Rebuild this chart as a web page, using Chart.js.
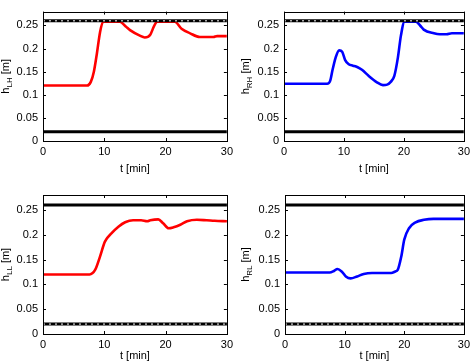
<!DOCTYPE html>
<html>
<head>
<meta charset="utf-8">
<script src="https://cdn.jsdelivr.net/npm/chart.js@4.4.1/dist/chart.umd.min.js"></script>
<style>
  html, body { margin: 0; padding: 0; background: #fff; }
  body { width: 474px; height: 361px; position: relative; overflow: hidden; }
  .cell { position: absolute; }
</style>
</head>
<body>
<div class="cell" style="left:0;top:0;width:237px;height:180px"><canvas id="c1"></canvas></div>
<div class="cell" style="left:237px;top:0;width:237px;height:180px"><canvas id="c2"></canvas></div>
<div class="cell" style="left:0;top:180px;width:237px;height:181px"><canvas id="c3"></canvas></div>
<div class="cell" style="left:237px;top:180px;width:237px;height:181px"><canvas id="c4"></canvas></div>
<script>
// ---------- data ----------
const xTicks = [0, 10, 20, 30];
const yTicks = [0, 0.05, 0.1, 0.15, 0.2, 0.25];
const yTickLabels = ['0', '0.05', '0.1', '0.15', '0.2', '0.25'];
const xLabel = 't [min]';
const limits = [0.02, 0.26];

const tLH = [0, 7.2, 7.8, 8.3, 8.8, 9.3, 9.8, 12.5, 13.5, 14.2, 15.8, 16.6, 17.5, 18.1, 18.6, 21.5, 22.6, 24, 25.6, 26.7, 27.8, 28.4, 30];
const hLH = [0.12, 0.12, 0.128, 0.15, 0.19, 0.235, 0.258, 0.258, 0.248, 0.24, 0.228, 0.224, 0.23, 0.248, 0.258, 0.258, 0.243, 0.233, 0.225, 0.225, 0.225, 0.227, 0.227];

const tRH = [0, 7.2, 7.7, 8.1, 8.6, 9.2, 9.7, 10.2, 10.8, 11.5, 12.2, 13, 14.1, 15.5, 16.5, 17.2, 17.8, 18.4, 19, 19.5, 20.1, 22, 22.7, 23.3, 25, 26, 27.1, 28, 30];
const hRH = [0.124, 0.124, 0.13, 0.154, 0.18, 0.196, 0.193, 0.175, 0.166, 0.163, 0.16, 0.154, 0.141, 0.127, 0.121, 0.122, 0.128, 0.141, 0.181, 0.228, 0.258, 0.258, 0.25, 0.241, 0.233, 0.231, 0.231, 0.233, 0.233];

const tLL = [0, 7.6, 8.5, 9.3, 10.1, 11.2, 12.3, 13.4, 14.7, 16, 17, 17.5, 18.8, 19.6, 20.5, 21.3, 22.4, 23.5, 25.1, 26.7, 28, 30];
const hLL = [0.12, 0.12, 0.129, 0.156, 0.186, 0.203, 0.216, 0.225, 0.229, 0.229, 0.227, 0.229, 0.231, 0.223, 0.213, 0.215, 0.22, 0.227, 0.23, 0.229, 0.228, 0.227];

const tRL = [0, 7.5, 8.2, 8.8, 9.5, 10.2, 11, 12.1, 13.2, 14.6, 17.8, 18.5, 18.9, 19.5, 20, 20.8, 21.9, 23.3, 24.9, 30];
const hRL = [0.124, 0.124, 0.127, 0.131, 0.126, 0.116, 0.112, 0.116, 0.121, 0.123, 0.123, 0.126, 0.129, 0.156, 0.19, 0.213, 0.225, 0.23, 0.232, 0.232];

// ---------- helpers ----------
const FONT = 'Liberation Sans, Arial, sans-serif';
const pts = (t, h) => t.map((x, i) => ({x: x, y: h[i]}));

const frameTicks = {
  id: 'frameTicks',
  afterDatasetsDraw(chart) {
    const {ctx, chartArea: a, scales: {x, y}} = chart;
    ctx.save();
    ctx.strokeStyle = '#000';
    ctx.lineWidth = 1;
    const L = 3;
    ctx.beginPath();
    xTicks.forEach(v => {
      const px = Math.round(x.getPixelForValue(v)) + 0.5;
      ctx.moveTo(px, a.bottom); ctx.lineTo(px, a.bottom - L);
      ctx.moveTo(px, a.top); ctx.lineTo(px, a.top + L);
    });
    yTicks.forEach(v => {
      const py = Math.round(y.getPixelForValue(v)) + 0.5;
      ctx.moveTo(a.left, py); ctx.lineTo(a.left + L, py);
      ctx.moveTo(a.right, py); ctx.lineTo(a.right - L, py);
    });
    ctx.stroke();
    ctx.strokeRect(Math.round(a.left) + 0.5, Math.round(a.top) + 0.5,
                   Math.round(a.right - a.left), Math.round(a.bottom - a.top));
    ctx.restore();
  }
};

const yTitle = {
  id: 'yTitle',
  afterDraw(chart, args, opts) {
    const {ctx, chartArea: a} = chart;
    ctx.save();
    ctx.translate(opts.x, (a.top + a.bottom) / 2);
    ctx.rotate(-Math.PI / 2);
    ctx.fillStyle = '#000';
    ctx.textBaseline = 'alphabetic';
    const f1 = '11px ' + FONT, f2 = '8px ' + FONT;
    ctx.font = f1; const w1 = ctx.measureText('h').width;
    ctx.font = f2; const w2 = ctx.measureText(opts.sub).width;
    ctx.font = f1; const w3 = ctx.measureText(' [m]').width;
    let sx = -(w1 + w2 + w3) / 2;
    const base = 4;
    ctx.font = f1; ctx.textAlign = 'left';
    ctx.fillText('h', sx, base); sx += w1;
    ctx.font = f2; ctx.fillText(opts.sub, sx, base + 3); sx += w2;
    ctx.font = f1; ctx.fillText(' [m]', sx, base);
    ctx.restore();
  }
};

function makeChart(id, t, h, color, sub, cfg) {
  const dashedTop = cfg.dashed;
  const datasets = [
    {data: pts(t, h), borderColor: color, borderWidth: 2.6, pointRadius: 0,
     cubicInterpolationMode: 'monotone', order: 2},
  ];
  limits.forEach(l => {
    datasets.push({data: [{x: 0, y: l}, {x: 30, y: l}], borderColor: '#000', borderWidth: 3,
      pointRadius: 0, order: 1});
    if (l === dashedTop) {
      datasets.push({data: [{x: 0, y: l}, {x: 30, y: l}], borderColor: '#ffffff', borderWidth: 1,
        borderDash: [2, 4], pointRadius: 0, order: 0});
    }
  });
  return new Chart(document.getElementById(id), {
    type: 'line',
    data: {datasets: datasets},
    options: {
      responsive: true, maintainAspectRatio: false, animation: false,
      devicePixelRatio: 1,
      layout: {padding: {top: cfg.top, right: cfg.right, left: 0, bottom: 0}},
      plugins: {legend: {display: false}, tooltip: {enabled: false}, yTitle: {x: cfg.titleX, sub: sub}},
      scales: {
        x: {
          type: 'linear', min: 0, max: 30,
          afterBuildTicks: s => { s.ticks = xTicks.map(v => ({value: v})); },
          afterFit: s => { s.height = cfg.xh; },
          grid: {display: false, drawTicks: false},
          border: {display: false},
          ticks: {color: '#000', font: {family: FONT, size: 11}, padding: 4, maxRotation: 0},
          title: {display: true, text: xLabel, color: '#000', font: {family: FONT, size: 11},
                  padding: {top: 0, bottom: cfg.titlePad}}
        },
        y: {
          type: 'linear', min: 0, max: 0.28,
          afterBuildTicks: s => { s.ticks = yTicks.map(v => ({value: v})); },
          afterFit: s => { s.width = cfg.yw; },
          grid: {display: false, drawTicks: false},
          border: {display: false},
          ticks: {color: '#000', font: {family: FONT, size: 11}, padding: 5,
                  callback: (v) => { const i = yTicks.indexOf(v); return i >= 0 ? yTickLabels[i] : ''; }}
        }
      }
    },
    plugins: [frameTicks, yTitle]
  });
}

makeChart('c1', tLH, hLH, '#ff0000', 'LH', {top: 1, right: 10, yw: 43, xh: 39, titlePad: 4, titleX: 5, dashed: 0.26});
makeChart('c2', tRH, hRH, '#0000ff', 'RH', {top: 1, right: 6, yw: 47, xh: 39, titlePad: 4, titleX: 8, dashed: 0.26});
makeChart('c3', tLL, hLL, '#ff0000', 'LL', {top: 15, right: 10, yw: 43, xh: 27, titlePad: -2, titleX: 5, dashed: 0.02});
makeChart('c4', tRL, hRL, '#0000ff', 'RL', {top: 15, right: 6, yw: 48, xh: 27, titlePad: -2, titleX: 8, dashed: 0.02});
</script>
</body>
</html>
